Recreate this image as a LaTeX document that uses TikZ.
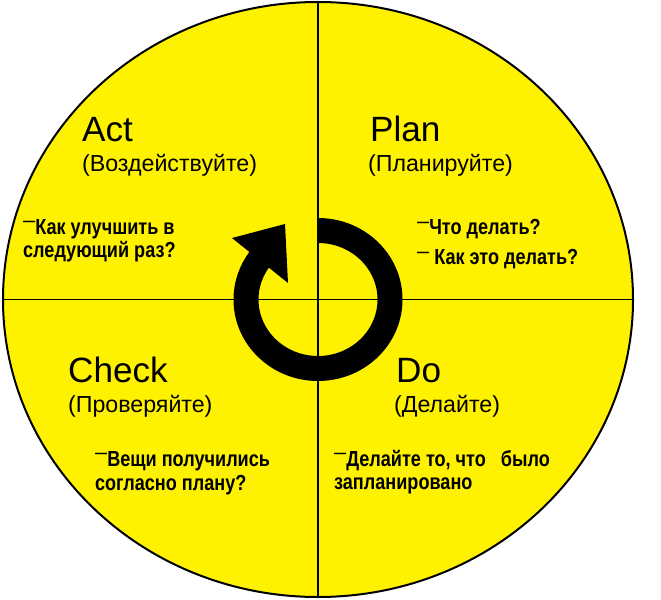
\documentclass[tikz,border=0pt]{standalone}
\usepackage{fontspec}
\setmainfont{Liberation Sans}
\newfontfamily\narrowfont{Liberation Sans}[FakeStretch=0.83]
\newcommand{\dsh}{\raisebox{0.3em}{\normalfont\mdseries –}}
\tikzset{
  head/.style={inner sep=0pt, anchor=base west, font=\fontsize{50}{60}\selectfont},
  subhead/.style={inner sep=0pt, anchor=base west, font=\fontsize{33}{38}\selectfont},
  note/.style={inner sep=0pt, anchor=base west, align=left,
    font=\narrowfont\bfseries\fontsize{31}{34}\selectfont},
}
\begin{document}
\begin{tikzpicture}[x=0.5mm, y=-0.5mm]
      \useasboundingbox (0,0) rectangle (661,600);
      \fill[white] (0,0) rectangle (661,600);
      \coordinate (c) at (318,299.5);
      \filldraw[fill=yellow, line width=1mm] (c) ellipse [x radius=315, y radius=297.5];
      \draw[line width=0.7mm] (318,2) -- (318,597);
      \draw[line width=0.7mm] (3,299.5) -- (633,299.5);
      \draw[line width=12.5mm, line cap=butt]
        (c) ++(-90:72 and 69) arc [start angle=-90, end angle=216, x radius=72, y radius=69];
      \fill (232,238) -- (285,224) -- (288,283) -- cycle;
      \draw
        (82,142) node[head] (act){Act}
        (82,172) node[subhead] (actsub){(Воздействуйте)}
        (370,142) node[head] (plan){Plan}
        (368,172) node[subhead] (plansub){(Планируйте)}
        (68,382) node[head] (check){Check}
        (68,412) node[subhead] (checksub){(Проверяйте)}
        (396,382) node[head] (do){Do}
        (394,412) node[subhead] (dosub){(Делайте)};
      \begin{scope}[every node/.style={note}]
        \node (actnote) at (23,258) {\dsh Как улучшить в\\ следующий раз?};
        \node (plannote) at (417,265) {\dsh Что делать?\\[9pt] \dsh\ Как это делать?};
        \node (checknote) at (95,490) {\dsh Вещи получились\\ согласно плану?};
        \node (donote) at (334,489) {\dsh Делайте то, что\ \ \ было\\[-2pt] запланировано};
      \end{scope}
    \end{tikzpicture}
\end{document}
